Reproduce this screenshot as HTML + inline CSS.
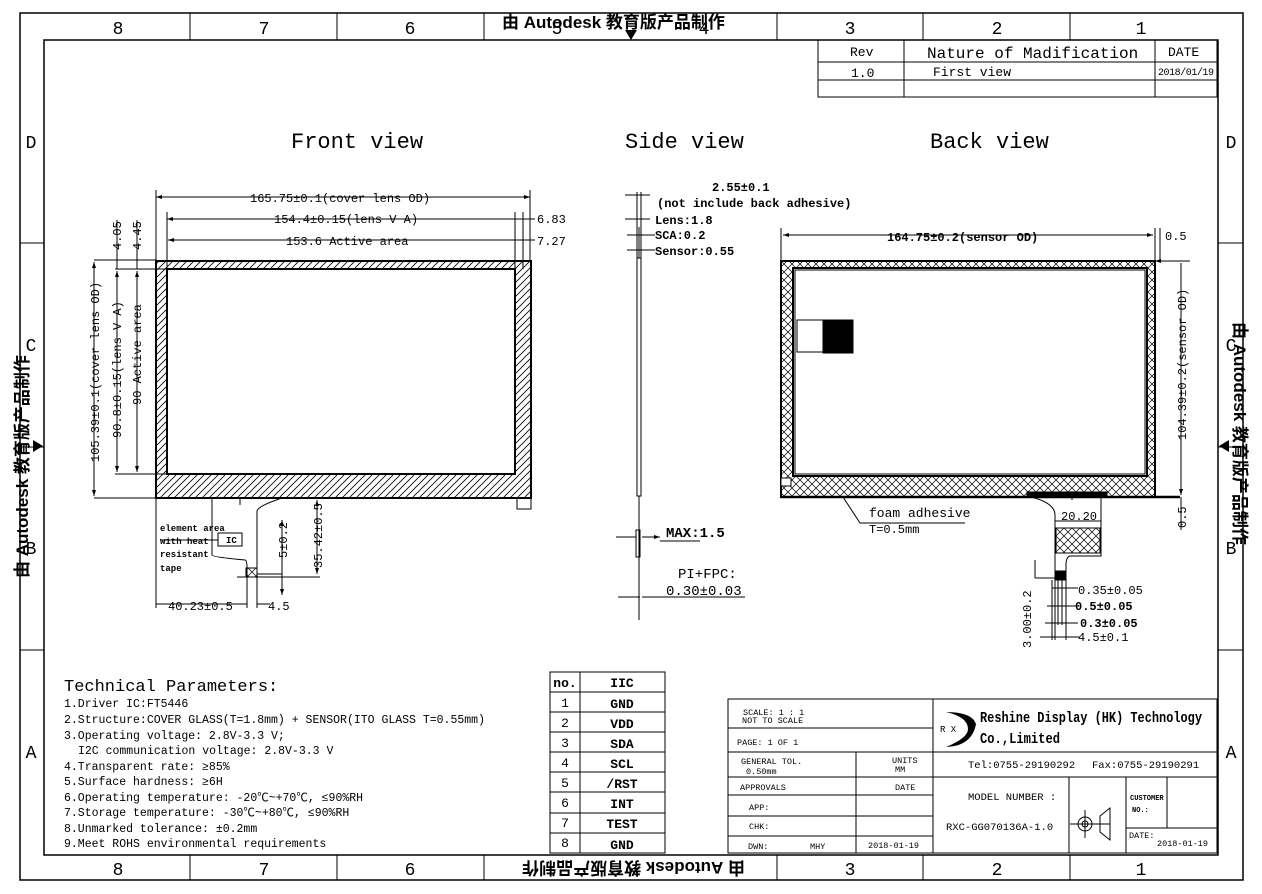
<!DOCTYPE html>
<html><head><meta charset="utf-8"><style>
html,body{margin:0;padding:0;background:#fff}
svg{display:block}
text{font-family:"Liberation Mono","Noto Sans CJK SC",monospace;fill:#000}
.s{font-family:"Liberation Sans","Noto Sans CJK SC",sans-serif}
.b{font-family:"Liberation Serif","Noto Serif CJK SC",serif}
</style></head><body>
<svg width="1262" height="894" viewBox="0 0 1262 894" xmlns="http://www.w3.org/2000/svg">
<defs>
<pattern id="h1" width="7" height="7" patternUnits="userSpaceOnUse"><path d="M0 7L7 0M-1 1L1 -1M6 8L8 6" stroke="#000" stroke-width="0.8"/></pattern>
<pattern id="x1" width="8" height="8" patternUnits="userSpaceOnUse"><path d="M0 8L8 0M0 0L8 8" stroke="#000" stroke-width="0.7"/></pattern>
<marker id="a" markerWidth="6" markerHeight="4" refX="6" refY="2" orient="auto-start-reverse"><path d="M0 0L6 2L0 4z" fill="#000"/></marker>
</defs>
<g fill="none" stroke="#000">
<rect x="20" y="13" width="1223" height="867" stroke-width="1.5"/>
<rect x="44" y="40" width="1174" height="815" stroke-width="1.5"/>
<g stroke-width="1">
<path d="M190 13V40M337 13V40M484 13V40M777 13V40M923 13V40M1070 13V40"/>
<path d="M190 855V880M337 855V880M484 855V880M777 855V880M923 855V880M1070 855V880"/>
<path d="M20 243H44M20 447H44M20 650H44M1218 243H1243M1218 447H1243M1218 650H1243"/>
</g>
<rect x="818" y="40" width="399" height="57"/>
<path d="M818 62H1217M818 80H1217M904 40V97M1155 40V97"/>
<rect x="156" y="261" width="375" height="237" fill="url(#h1)" stroke-width="2"/>
<rect x="167" y="269" width="348" height="205" fill="#fff" stroke-width="2"/>
<rect x="517" y="498" width="14" height="11" stroke-width="1"/>
<g stroke-width="1">
<path d="M156 197H530" marker-start="url(#a)" marker-end="url(#a)"/>
<path d="M156 190V261M530 190V261M167 212V269M515 212V269M523 212V269"/>
<path d="M167 219H515" marker-start="url(#a)"/>
<path d="M168 240H515" marker-start="url(#a)"/>
<path d="M515 219H535M515 240H535"/>
<path d="M94 260H156M94 498H156M115 269H167M115 474H167"/>
<path d="M94 262V496" marker-start="url(#a)" marker-end="url(#a)"/>
<path d="M117 271V472" marker-start="url(#a)" marker-end="url(#a)"/>
<path d="M137 271V472" marker-start="url(#a)" marker-end="url(#a)"/>
<path d="M117 220V269M137 220V269"/>
<path d="M212 498V555Q212 557 245 560Q247 560 247 568V608M257 608V511Q258 506 282 498"/>
<path d="M240 498V505"/>
<rect x="246" y="568" width="11" height="9" fill="url(#x1)"/>
<path d="M237 577H320M257 574H282M156 498V608M156 604H244M257 604H270M237 604H247"/>
<path d="M282 520V595" marker-start="url(#a)" marker-end="url(#a)"/>
<path d="M317 500V574" marker-start="url(#a)" marker-end="url(#a)"/>
<rect x="218" y="533" width="24" height="13"/>
<path d="M160 540H218"/>
</g>
<g stroke-width="1">
<rect x="637" y="258" width="4" height="238"/>
<path d="M637 192V258M641 192V258M637 212V258M639 227V258"/>
<path d="M625 195H650M625 219H650M627 235H655M627 250H655"/>
<path d="M639 496V620"/>
<rect x="636" y="530" width="4" height="27"/>
<path d="M616 537H636M642 537H660" marker-end="url(#a)"/>
<path d="M660 541H700M618 597H640M642 597H745"/>
</g>
<rect x="781" y="261" width="374" height="236" fill="url(#x1)" stroke-width="2"/>
<rect x="793" y="268" width="354" height="208" fill="#fff" stroke-width="2"/>
<rect x="795" y="270" width="350" height="204" stroke-width="1"/>
<rect x="797" y="320" width="26" height="32" stroke-width="1"/>
<rect x="823" y="320" width="30" height="33" fill="#000"/>
<rect x="781" y="478" width="10" height="8" fill="#fff" stroke-width="1"/>
<line x1="781" y1="497" x2="1180" y2="497" stroke-width="2.5"/>
<rect x="1027" y="492" width="80" height="5" fill="#000"/>
<g stroke-width="1">
<path d="M781 228V261M1155 228V261M1160 228V261"/>
<path d="M783 235H1153" marker-start="url(#a)" marker-end="url(#a)"/>
<path d="M1155 261H1190M1181 263V495" marker-start="url(#a)" marker-end="url(#a)"/>
<path d="M1181 497V530"/>
<path d="M1031 497Q1055 503 1055 515V640M1101 497V556L1070 556Q1066 557 1066 565V640"/>
<path d="M1072 491V500"/>
<rect x="1056" y="528" width="44" height="25" fill="url(#x1)"/>
<path d="M1055 521H1101"/>
<rect x="1055" y="571" width="10" height="9" fill="#000"/>
<path d="M1035 578H1055M1035 560V578M1052 588H1078M1047 606H1078M1045 623H1078M1040 637H1080M1058 580V625M1062 580V625M1052 580V640"/>
<path d="M843 497L860 523H965"/>
</g>
<g stroke-width="1">
<rect x="550" y="672" width="115" height="181"/>
<path d="M580 672V853M550 692H665M550 712H665M550 732H665M550 752H665M550 772H665M550 792H665M550 813H665M550 833H665"/>
<rect x="728" y="699" width="489" height="154"/>
<path d="M933 699V853M728 728H933M728 752H1217M728 777H1217M856 752V853M728 795H933M728 816H933M728 836H933"/>
<path d="M1069 777V853M1126 777V853M1167 777V828M1126 828H1217"/>
<circle cx="1085" cy="824" r="7"/><circle cx="1085" cy="824" r="3"/>
<path d="M1070 824H1110M1085 810V838M1100 816L1110 808V840L1100 832Z"/>
</g>
<path d="M946 712Q972 712 976 724Q972 746 946 747Q968 738 968 729Q968 717 946 712Z" fill="#000" stroke="none"/>
</g>
<g font-size="18" text-anchor="middle">
<text x="118" y="34">8</text><text x="264" y="34">7</text><text x="410" y="34">6</text><text x="557" y="34">5</text><text x="704" y="34">4</text><text x="850" y="34">3</text><text x="997" y="34">2</text><text x="1141" y="34">1</text>
<text x="118" y="875">8</text><text x="264" y="875">7</text><text x="410" y="875">6</text><text x="850" y="875">3</text><text x="997" y="875">2</text><text x="1141" y="875">1</text>
<text x="31" y="148">D</text><text x="31" y="351">C</text><text x="31" y="554">B</text><text x="31" y="758">A</text>
<text x="1231" y="148">D</text><text x="1231" y="351">C</text><text x="1231" y="554">B</text><text x="1231" y="758">A</text>
</g>
<text class="s" x="502" y="28" font-size="17" font-weight="bold">由 Autodesk 教育版产品制作</text>
<text class="s" x="0" y="0" font-size="17" font-weight="bold" transform="translate(745 862) rotate(180)">由 Autodesk 教育版产品制作</text>
<text class="s" x="0" y="0" font-size="17" font-weight="bold" transform="translate(28 578) rotate(-90)">由 Autodesk 教育版产品制作</text>
<text class="s" x="0" y="0" font-size="17" font-weight="bold" transform="translate(1234 322) rotate(90)">由 Autodesk 教育版产品制作</text>
<path d="M625 30H637L631 40Z M33 440V452L43 446Z M1229 440V452L1219 446Z"/>
<g font-size="13">
<text x="850" y="56">Rev</text><text x="927" y="58" font-size="16">Nature of Madification</text><text x="1168" y="56">DATE</text>
<text x="851" y="77">1.0</text><text x="933" y="76">First view</text><text x="1158" y="75" font-size="10" textLength="56">2018/01/19</text>
</g>
<g font-size="22"><text x="291" y="148">Front view</text><text x="625" y="148">Side view</text><text x="930" y="148">Back view</text></g>
<g font-size="12">
<text x="250" y="202">165.75±0.1(cover lens OD)</text>
<text x="274" y="223">154.4±0.15(lens V A)</text>
<text x="286" y="245">153.6 Active area</text>
<text x="537" y="223">6.83</text><text x="537" y="245">7.27</text>
<text transform="translate(121 250) rotate(-90)">4.05</text>
<text transform="translate(141 250) rotate(-90)">4.45</text>
<text transform="translate(99 462) rotate(-90)">105.39±0.1(cover lens OD)</text>
<text transform="translate(121 438) rotate(-90)">90.8±0.15(lens V A)</text>
<text transform="translate(141 405) rotate(-90)">90 Active area</text>
<text transform="translate(287 558) rotate(-90)">5±0.2</text>
<text transform="translate(322 568) rotate(-90)">35.42±0.5</text>
<text x="168" y="610">40.23±0.5</text><text x="268" y="610">4.5</text>
</g>
<g font-size="9" font-weight="bold" class="b">
<text x="160" y="531">element area</text><text x="160" y="544">with heat</text><text x="160" y="557">resistant</text><text x="160" y="571">tape</text>
<text x="226" y="543">IC</text>
</g>
<g font-size="12" class="b" font-weight="bold">
<text x="712" y="191">2.55±0.1</text>
<text x="657" y="207">(not include back adhesive)</text>
<text x="655" y="224">Lens:1.8</text><text x="655" y="239">SCA:0.2</text><text x="655" y="255">Sensor:0.55</text>
<text x="666" y="537" font-size="14">MAX:1.5</text>
<text x="887" y="241">164.75±0.2(sensor OD)</text>
<text x="1075" y="610">0.5±0.05</text><text x="1080" y="627">0.3±0.05</text>
</g>
<g font-size="14"><text x="678" y="578">PI+FPC:</text><text x="666" y="595">0.30±0.03</text></g>
<g font-size="12">
<text x="1165" y="240">0.5</text>
<text transform="translate(1186 440) rotate(-90)">104.39±0.2(sensor OD)</text>
<text transform="translate(1186 528) rotate(-90)">0.5</text>
<text x="869" y="517" font-size="13">foam adhesive</text><text x="869" y="533">T=0.5mm</text>
<text x="1061" y="520">20.20</text>
<text x="1078" y="594">0.35±0.05</text><text x="1078" y="641">4.5±0.1</text>
<text transform="translate(1031 648) rotate(-90)">3.00±0.2</text>
</g>
<text x="64" y="691" font-size="17">Technical Parameters:</text>
<g font-size="11.5">
<text x="64" y="707">1.Driver IC:FT5446</text>
<text x="64" y="723">2.Structure:COVER GLASS(T=1.8mm) + SENSOR(ITO GLASS T=0.55mm)</text>
<text x="64" y="739">3.Operating voltage: 2.8V-3.3 V;</text>
<text x="78" y="754">I2C communication voltage: 2.8V-3.3 V</text>
<text x="64" y="770">4.Transparent rate: ≥85%</text>
<text x="64" y="785">5.Surface hardness: ≥6H</text>
<text x="64" y="801">6.Operating temperature: -20℃~+70℃, ≤90%RH</text>
<text x="64" y="816">7.Storage temperature: -30℃~+80℃, ≤90%RH</text>
<text x="64" y="832">8.Unmarked tolerance: ±0.2mm</text>
<text x="64" y="847">9.Meet ROHS environmental requirements</text>
</g>
<g font-size="13" text-anchor="middle">
<g class="s" font-weight="bold"><text x="565" y="687">no.</text><text x="622" y="687">IIC</text>
<text x="622" y="708">GND</text><text x="622" y="728">VDD</text><text x="622" y="748">SDA</text><text x="622" y="768">SCL</text><text x="622" y="788">/RST</text><text x="622" y="808">INT</text><text x="622" y="828">TEST</text><text x="622" y="849">GND</text></g>
<text x="565" y="707">1</text><text x="565" y="727">2</text><text x="565" y="747">3</text><text x="565" y="767">4</text><text x="565" y="787">5</text><text x="565" y="807">6</text><text x="565" y="827">7</text><text x="565" y="847">8</text>
</g>
<g font-size="8.5" class="b">
<text x="743" y="715">SCALE: 1 : 1</text><text x="742" y="723">NOT TO SCALE</text>
<text x="737" y="745">PAGE: 1 OF 1</text>
<text x="741" y="764">GENERAL TOL.</text><text x="746" y="774">0.50mm</text>
<text x="892" y="763">UNITS</text><text x="895" y="772">MM</text>
<text x="740" y="790">APPROVALS</text><text x="895" y="790">DATE</text>
<text x="749" y="810">APP:</text><text x="749" y="829">CHK:</text>
<text x="748" y="849">DWN:</text><text x="810" y="849">MHY</text><text x="868" y="848">2018-01-19</text>
<text x="1130" y="800" font-weight="bold" font-size="7">CUSTOMER</text><text x="1132" y="812" font-weight="bold" font-size="7">NO.:</text>
<text x="1129" y="838">DATE:</text><text x="1157" y="846">2018-01-19</text>
</g>
<text x="940" y="732" font-size="9">R X</text>
<g class="b" font-size="15" font-weight="bold"><text x="980" y="722" textLength="222" lengthAdjust="spacingAndGlyphs">Reshine Display (HK) Technology</text><text x="980" y="743" textLength="80" lengthAdjust="spacingAndGlyphs">Co.,Limited</text></g>
<g font-size="10.5"><text x="968" y="768">Tel:0755-29190292</text><text x="1092" y="768">Fax:0755-29190291</text>
<text x="968" y="800">MODEL NUMBER :</text><text x="946" y="830">RXC-GG070136A-1.0</text></g>
</svg>
</body></html>
